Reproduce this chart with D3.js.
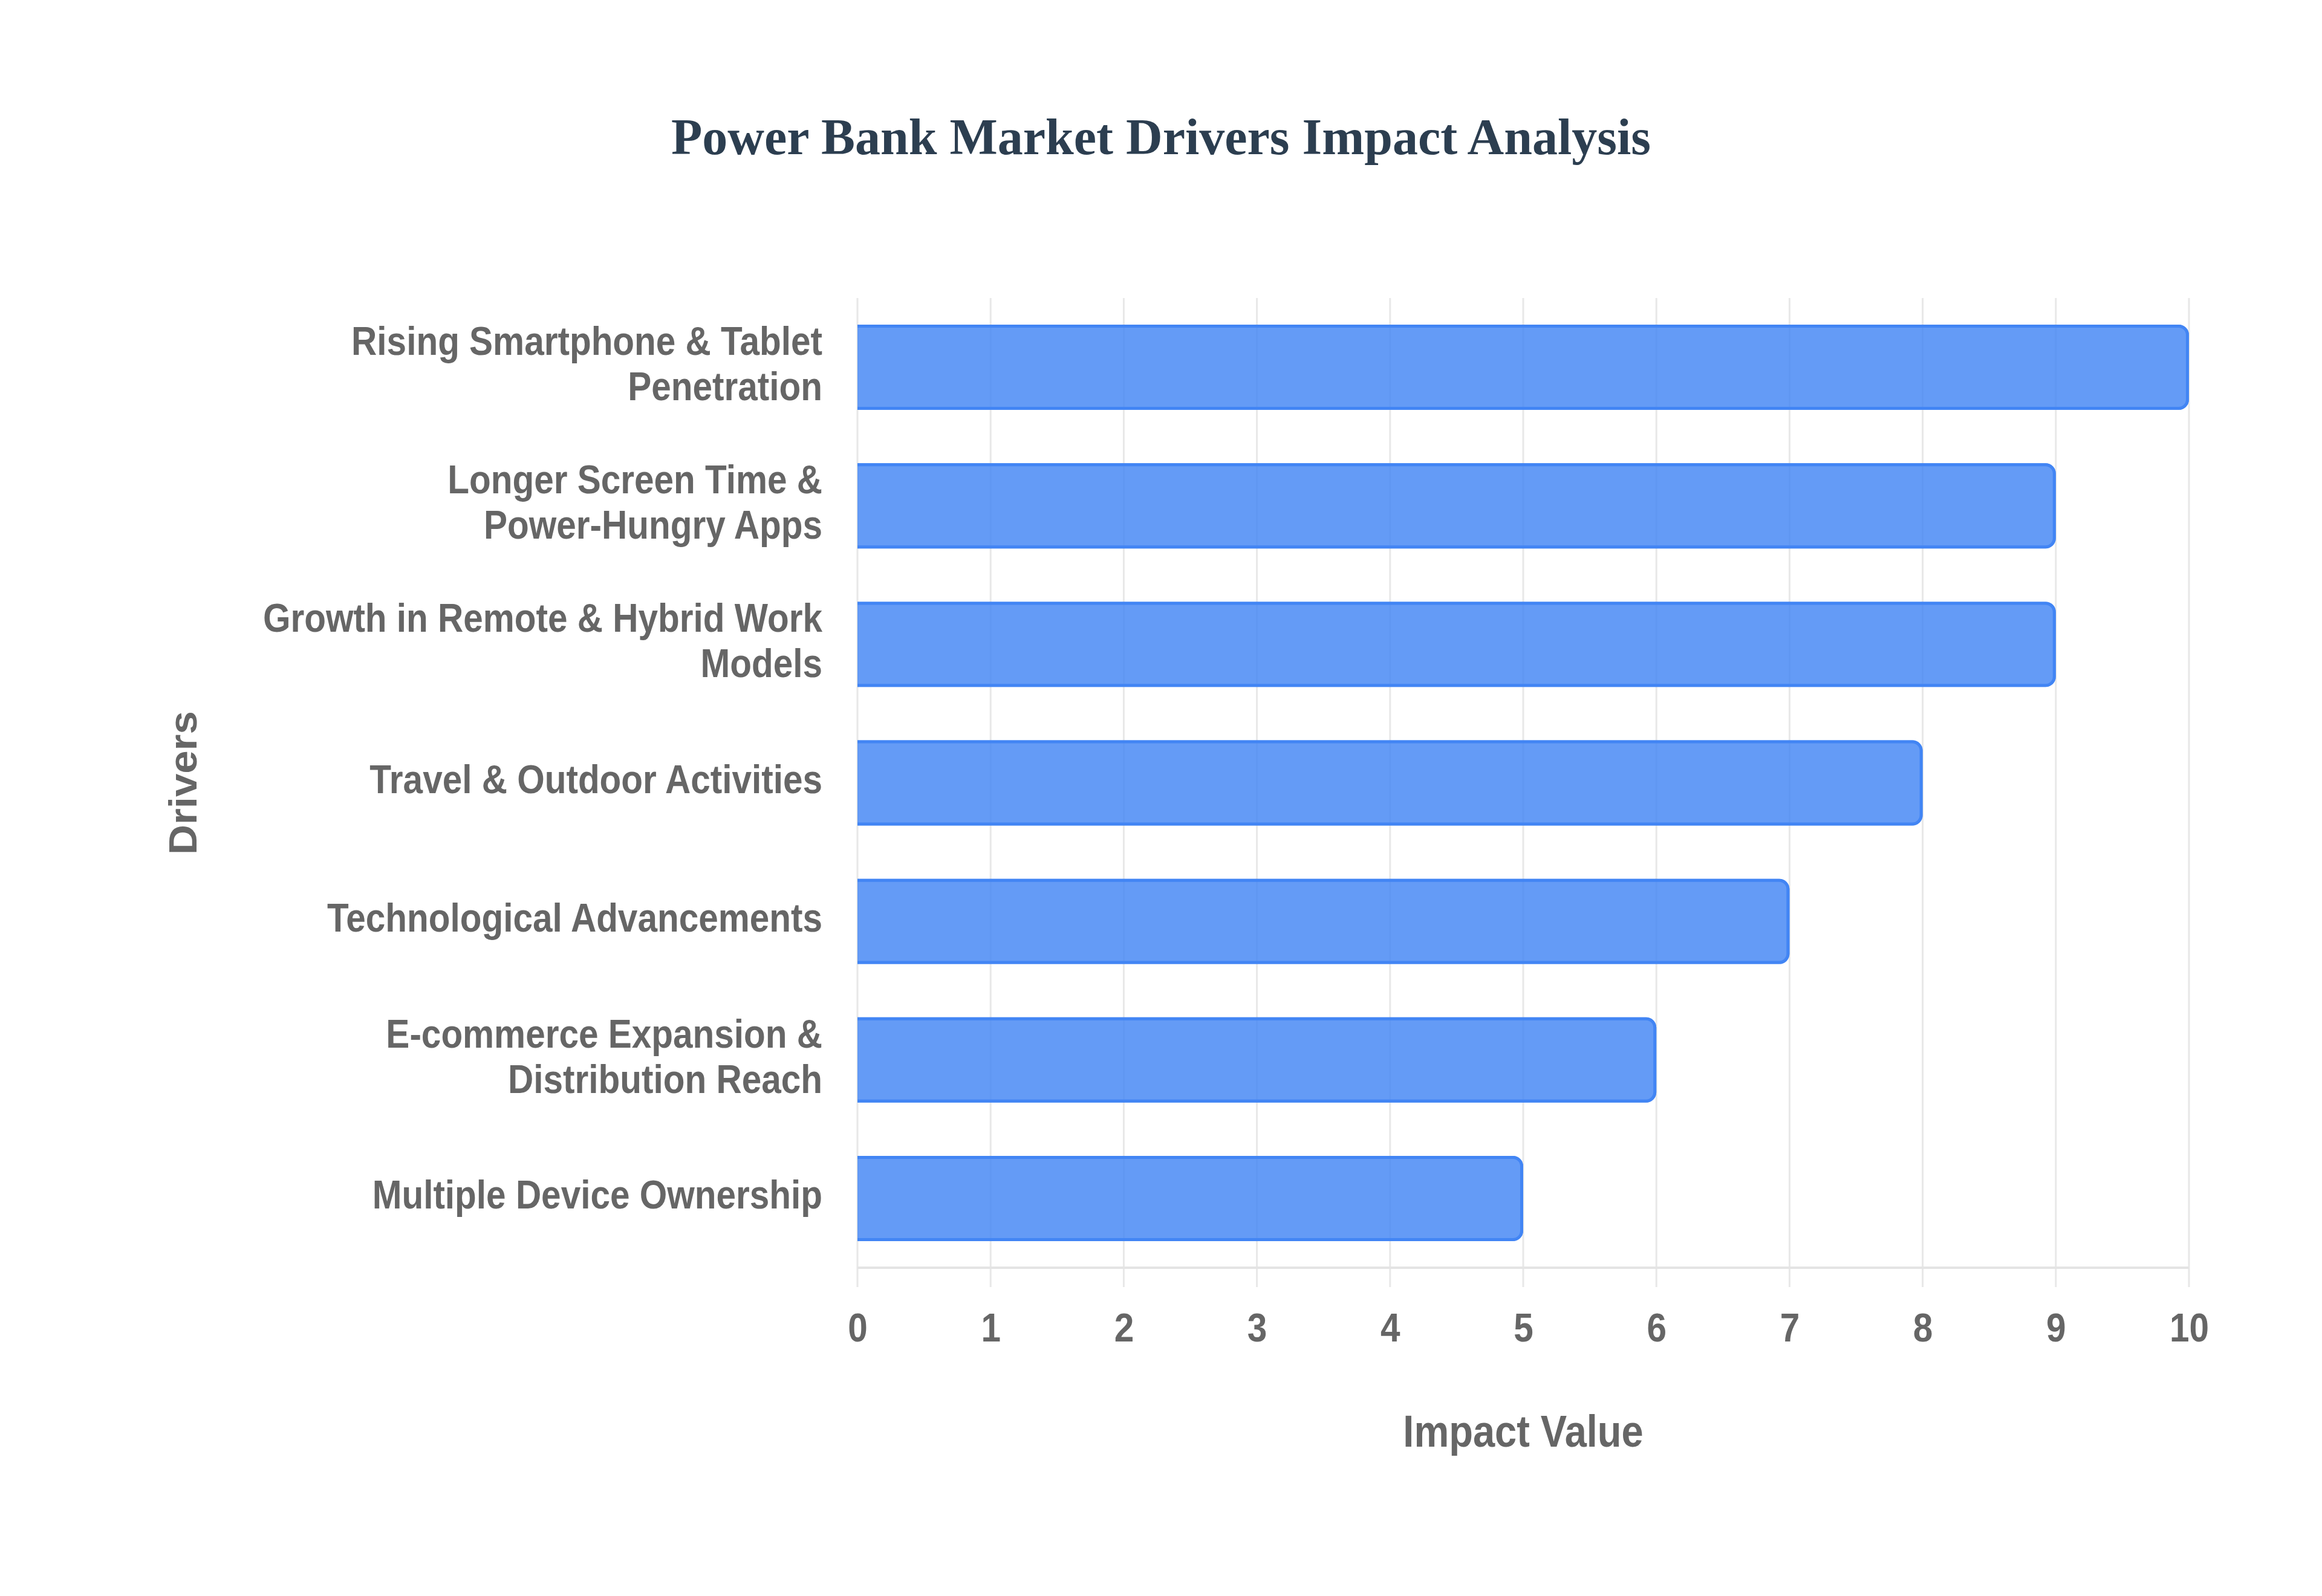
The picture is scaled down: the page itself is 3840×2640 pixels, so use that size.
<!DOCTYPE html>
<html>
<head>
<meta charset="utf-8">
<script src="https://cdn.jsdelivr.net/npm/d3@7"></script>
<style>
html,body{margin:0;padding:0;background:#ffffff;}
svg{display:block;}
</style>
</head>
<body>
<svg id="chart" width="3840" height="2640"></svg>
<script>
// ---- data ----
const chartTitle = "Power Bank Market Drivers Impact Analysis";
const categories = [
  "Rising Smartphone & Tablet\nPenetration",
  "Longer Screen Time &\nPower-Hungry Apps",
  "Growth in Remote & Hybrid Work\nModels",
  "Travel & Outdoor Activities",
  "Technological Advancements",
  "E-commerce Expansion &\nDistribution Reach",
  "Multiple Device Ownership"
];
const values = [10, 9, 9, 8, 7, 6, 5];
const xTicks = [0, 1, 2, 3, 4, 5, 6, 7, 8, 9, 10];
const xAxisTitle = "Impact Value";
const yAxisTitle = "Drivers";

// ---- layout ----
const W = 3840, H = 2640;
const plot = {left: 1418, right: 3620, top: 493, bottom: 2097};
const stretch = 1.145;           // vertical stretch of the canvas text in the reference
const sans = "'Liberation Sans', Arial, Helvetica, sans-serif";
const labelColor = "#666666";

const svg = d3.select("#chart");
svg.append("rect").attr("width", W).attr("height", H).attr("fill", "#ffffff");

const x = d3.scaleLinear().domain([0, 10]).range([plot.left, plot.right]);
const y = d3.scaleBand().domain(categories).range([plot.top, plot.bottom])
  .paddingInner(0.385).paddingOuter(0.1925);

// title
svg.append("text")
  .attr("x", W / 2).attr("y", 255)
  .attr("text-anchor", "middle")
  .attr("font-family", "'Liberation Serif', 'Times New Roman', serif")
  .attr("font-weight", "bold")
  .attr("font-size", 84)
  .attr("fill", "#2c3e50")
  .text(chartTitle);

// vertical grid lines
svg.append("g").selectAll("line").data(xTicks).join("line")
  .attr("x1", d => x(d)).attr("x2", d => x(d))
  .attr("y1", plot.top).attr("y2", plot.bottom + 32)
  .attr("stroke", "#e8e8e8").attr("stroke-width", 3);

// x axis border line
svg.append("line")
  .attr("x1", x(0)).attr("x2", x(10))
  .attr("y1", plot.bottom).attr("y2", plot.bottom)
  .attr("stroke", "#e4e4e4").attr("stroke-width", 4);

// bars
const r = 17, sw = 5;
function fillPath(x0, y0, w, h) {
  const rr = Math.min(r, w / 2, h / 2);
  return `M${x0},${y0}H${x0 + w - rr}A${rr},${rr} 0 0 1 ${x0 + w},${y0 + rr}V${y0 + h - rr}A${rr},${rr} 0 0 1 ${x0 + w - rr},${y0 + h}H${x0}Z`;
}
function borderPath(x0, y0, w, h) {
  const s = sw / 2;
  const rr = Math.min(r, w / 2, h / 2) - s;
  const xa = x0, ya = y0 + s, xe = x0 + w - s, yb = y0 + h - s;
  return `M${xa},${ya}H${xe - rr}A${rr},${rr} 0 0 1 ${xe},${ya + rr}V${yb - rr}A${rr},${rr} 0 0 1 ${xe - rr},${yb}H${xa}`;
}
const rows = categories.map((c, i) => ({c, v: values[i]}));
const barG = svg.append("g");
barG.selectAll("path.fill").data(rows).join("path")
  .attr("class", "fill")
  .attr("d", d => fillPath(x(0), y(d.c), x(d.v) - x(0), y.bandwidth()))
  .attr("fill", "rgba(66,133,244,0.82)");
barG.selectAll("path.border").data(rows).join("path")
  .attr("class", "border")
  .attr("d", d => borderPath(x(0), y(d.c), x(d.v) - x(0), y.bandwidth()))
  .attr("fill", "none")
  .attr("stroke", "#4285f4")
  .attr("stroke-width", sw);

// x axis (tick labels)
const xAxisG = svg.append("g")
  .attr("transform", `translate(0,${plot.bottom})`)
  .call(d3.axisBottom(x).tickValues(xTicks).tickSize(0).tickFormat(d3.format("d")));
xAxisG.select(".domain").remove();
xAxisG.selectAll("text")
  .attr("y", 0).attr("dy", null)
  .attr("transform", `translate(0,122) scale(1,${stretch})`)
  .attr("font-family", sans).attr("font-weight", "bold").attr("font-size", 58.5)
  .attr("fill", labelColor);

// y axis (category labels, multi-line)
const lineStep = 75;
const yAxisG = svg.append("g")
  .attr("transform", `translate(${plot.left},0)`)
  .call(d3.axisLeft(y).tickSize(0).tickFormat(""));
yAxisG.select(".domain").remove();
yAxisG.selectAll(".tick text")
  .attr("x", null).attr("dy", null)
  .attr("text-anchor", "end")
  .attr("transform", `translate(-58,0) scale(1,${stretch})`)
  .attr("font-family", sans).attr("font-weight", "bold").attr("font-size", 58.5)
  .attr("fill", labelColor)
  .each(function(d) {
    const lines = d.split("\n");
    const t = d3.select(this);
    t.text(null);
    lines.forEach((ln, i) => {
      const off = (i - (lines.length - 1) / 2) * lineStep + 17;
      t.append("tspan").attr("x", 0).attr("y", off / stretch).text(ln);
    });
  });

// axis titles
svg.append("text")
  .attr("transform", `translate(${(plot.left + plot.right) / 2},2393) scale(1,${stretch})`)
  .attr("text-anchor", "middle")
  .attr("font-family", sans).attr("font-weight", "bold").attr("font-size", 65)
  .attr("fill", labelColor)
  .text(xAxisTitle);

svg.append("text")
  .attr("transform", `translate(325,${(plot.top + plot.bottom) / 2}) rotate(-90) scale(1.06,1)`)
  .attr("text-anchor", "middle")
  .attr("font-family", sans).attr("font-weight", "bold").attr("font-size", 65)
  .attr("fill", labelColor)
  .text(yAxisTitle);
</script>
</body>
</html>
